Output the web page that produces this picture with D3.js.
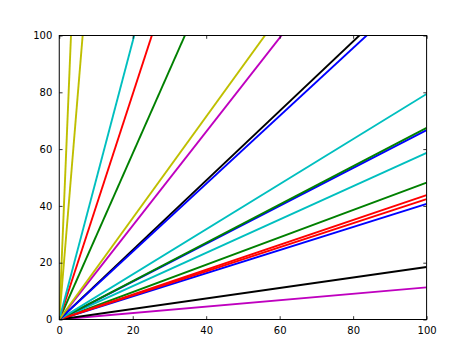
<!DOCTYPE html>
<html>
<head>
    <meta charset="utf-8">
    <script src="https://d3js.org/d3.v7.min.js"></script>
    <style>
        body { margin: 0; background: #fff; }
        text { font-family: "DejaVu Sans", sans-serif; font-size: 10px; }
    </style>
</head>
<body>
    <div id="chart"></div>
    <script>
        // slope of each line through the origin, in plotting order
        var slopes = [0.407, 0.482, 0.424, 0.587, 0.113, 31.3, 0.185,
                      0.667, 0.675, 0.438, 0.794, 1.653, 15.7, 1.224,
                      1.195, 2.924, 3.968, 4.90, 1.786];
        // matplotlib colour code of each line
        var colorCodes = ["b", "g", "r", "c", "m", "y", "k",
                          "b", "g", "r", "c", "m", "y", "k",
                          "b", "g", "r", "c", "y"];
        var xTicks = [0, 20, 40, 60, 80, 100];
        var yTicks = [0, 20, 40, 60, 80, 100];

        var W = 474, H = 355;
        var margin = { top: 35.5, right: 47.4, bottom: 35.5, left: 59.25 },
            width = W - margin.left - margin.right,
            height = H - margin.top - margin.bottom;

        var color = d3.scaleOrdinal()
            .domain(["b", "g", "r", "c", "m", "y", "k"])
            .range(["#0000ff", "#008000", "#ff0000", "#00bfbf", "#bf00bf", "#bfbf00", "#000000"]);

        var svg = d3.select("#chart").append("svg")
            .attr("width", W).attr("height", H)
            .append("g")
            .attr("transform", "translate(" + margin.left + "," + margin.top + ")");

        var x = d3.scaleLinear().domain([0, 100]).range([0, width]);
        var y = d3.scaleLinear().domain([0, 100]).range([height, 0]);

        svg.append("clipPath").attr("id", "clip")
            .append("rect").attr("width", width).attr("height", height);

        var line = d3.line()
            .x(function (d) { return x(d[0]); })
            .y(function (d) { return y(d[1]); });

        svg.append("g").attr("clip-path", "url(#clip)")
            .selectAll("path")
            .data(slopes)
            .enter()
            .append("path")
            .attr("d", function (s) { return line([[0, 0], [100, 100 * s]]); })
            .attr("fill", "none")
            .attr("stroke-width", 1.9)
            .attr("stroke", function (s, i) { return color(colorCodes[i]); });

        // axes, ticks pointing inward on all four sides
        function style(g) {
            g.select(".domain").remove();
            g.selectAll(".tick line").attr("stroke", "#000").attr("stroke-width", 0.8);
            g.selectAll(".tick text").attr("fill", "#000").style("font-size", "10px");
        }
        svg.append("g").attr("transform", "translate(0," + height + ")")
            .call(d3.axisBottom(x).tickValues(xTicks).tickSizeInner(-3.3).tickPadding(7))
            .call(style);
        svg.append("g")
            .call(d3.axisLeft(y).tickValues(yTicks).tickSizeInner(-3.3).tickPadding(7))
            .call(style);
        svg.append("g")
            .call(d3.axisTop(x).tickValues(xTicks).tickSizeInner(-3.3).tickFormat(""))
            .call(style);
        svg.append("g").attr("transform", "translate(" + width + ",0)")
            .call(d3.axisRight(y).tickValues(yTicks).tickSizeInner(-3.3).tickFormat(""))
            .call(style);

        svg.append("rect")
            .attr("width", width).attr("height", height)
            .attr("fill", "none").attr("stroke", "#000").attr("stroke-width", 1);
    </script>
</body>
</html>
